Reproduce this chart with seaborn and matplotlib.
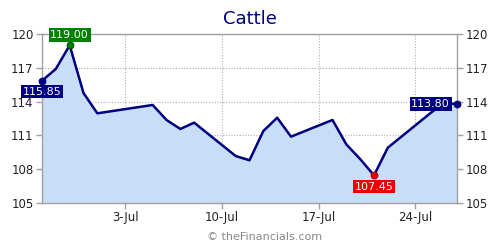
import matplotlib
matplotlib.use("Agg")
import matplotlib.pyplot as plt
import matplotlib.dates as mdates
import seaborn as sns
import pandas as pd

dates = ["2016-06-27", "2016-06-28", "2016-06-29", "2016-06-30", "2016-07-01",
         "2016-07-05", "2016-07-06", "2016-07-07", "2016-07-08", "2016-07-11",
         "2016-07-12", "2016-07-13", "2016-07-14", "2016-07-15", "2016-07-18",
         "2016-07-19", "2016-07-20", "2016-07-21", "2016-07-22", "2016-07-25",
         "2016-07-26", "2016-07-27"]
prices = [115.85, 116.9, 119.00, 114.76, 112.96,
          113.7, 112.37, 111.57, 112.13, 109.17,
          108.79, 111.39, 112.57, 110.89, 112.37,
          110.2, 108.9, 107.45, 109.91, 112.9,
          113.85, 113.80]
y_ticks = [105, 108, 111, 114, 117, 120]
title = "Cattle"
watermark = "© theFinancials.com"

df = pd.DataFrame({"date": pd.to_datetime(dates), "price": prices})

sns.set_style("white")
plt.rcParams["font.family"] = ["DejaVu Sans"]

fig = plt.figure(figsize=(5, 2.5), dpi=100)
ax = fig.add_axes([0.084, 0.188, 0.83, 0.676])

navy = "#000080"
ax.fill_between(df["date"], df["price"], 105, color="#c8def6", zorder=1)
sns.lineplot(data=df, x="date", y="price", ax=ax, color=navy, linewidth=1.8, zorder=3)

ax.set_xlim(df["date"].iloc[0], df["date"].iloc[-1])
ax.set_ylim(105, 120)
ax.set_yticks(y_ticks)
ax.set_xlabel("")
ax.set_ylabel("")

ax.xaxis.set_major_locator(mdates.DayLocator(bymonthday=[3, 10, 17, 24]))
ax.xaxis.set_major_formatter(mdates.DateFormatter("%-d-%b"))

ax.grid(True, color="#b0b0b0", linestyle=(0, (1, 1.5)), linewidth=0.8, zorder=0)
ax.set_axisbelow(True)
for sp in ax.spines.values():
    sp.set_color("#a0a0a0")
    sp.set_linewidth(1.0)
ax.tick_params(axis="both", which="both", direction="out", length=4, width=1,
               color="#a0a0a0", labelsize=8.5, labelcolor="#222222")
ax.tick_params(axis="y", left=True, right=True, labelleft=True, labelright=True, pad=2)
ax.tick_params(axis="x", bottom=True, pad=2)

fig.text(0.499, 0.925, title, ha="center", va="center", fontsize=13, color=navy)
fig.text(0.53, 0.05, watermark, ha="center", va="center", fontsize=8, color="#888888")

# markers and labels
i_max = prices.index(max(prices))
i_min = prices.index(min(prices))
pts = [
    (0, navy, navy, (0, -7.8), "center", "center", navy),
    (i_max, "#008000", "#005000", (0, 7.4), "center", "center", "#008000"),
    (i_min, "#ee0000", "#aa0000", (0, -8.2), "center", "center", "#ee0000"),
    (len(prices) - 1, navy, navy, (-5.0, 0), "right", "center", navy),
]
for idx, fc, ec, off, ha, va, boxc in pts:
    ax.plot(df["date"].iloc[idx], prices[idx], "o", ms=4.8, mfc=fc, mec=ec,
            mew=0.8, zorder=5, clip_on=False)
    ax.annotate(f"{prices[idx]:.2f}", (df["date"].iloc[idx], prices[idx]),
                xytext=off, textcoords="offset points", ha=ha, va=va,
                fontsize=8, color="white", zorder=6, annotation_clip=False,
                bbox=dict(boxstyle="square,pad=0.15", fc=boxc, ec="none"))

fig.savefig("out.png", dpi=100)
